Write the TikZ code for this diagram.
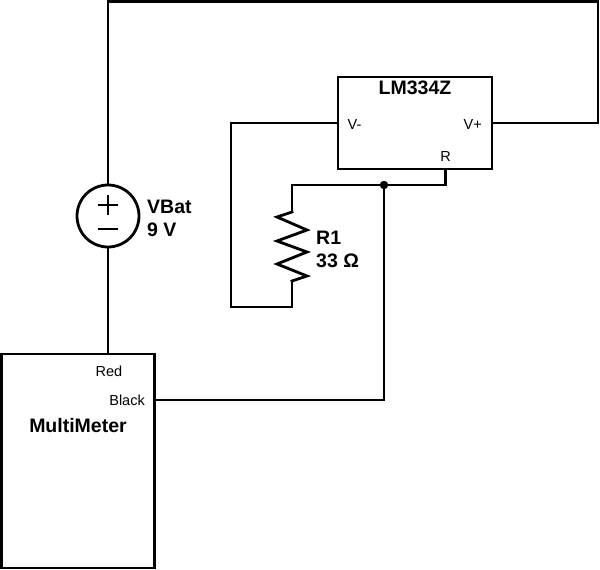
\documentclass[tikz,border=0pt]{standalone}
\usepackage{fontspec}
\setmainfont{Liberation Sans}
\tikzset{
  wire/.style={line width=2.8pt,line join=miter,line cap=rect},
  boxpart/.style={draw,line width=2.8pt,inner sep=0pt,outer sep=0pt,anchor=north west},
  pinlabel/.style={font=\fontsize{14.5}{14.5}\selectfont,inner sep=0pt,anchor=base},
  titlelabel/.style={font=\fontsize{19.5}{19.5}\selectfont\bfseries,inner sep=0pt,anchor=base},
  jdot/.style={circle,fill=black,minimum size=8.5pt,inner sep=0pt}
}
\begin{document}
\begin{tikzpicture}[x=1pt,y=-1pt]
\useasboundingbox (0,0) rectangle (600,570);
\node[boxpart,minimum width=154pt,minimum height=92pt] (lm) at (338,77) {};
\node[boxpart,minimum width=153pt,minimum height=214pt] (mm) at (1.5,354) {};
\node[circle,draw,line width=2.8pt,outer sep=0pt,minimum size=62pt,inner sep=0pt] (bat) at (108,216) {};
\node[jdot] (j) at (384,185) {};
\coordinate (lmv) at (338,123);
\coordinate (lmp) at (492,123);
\coordinate (lmr) at (445.5,169);
\coordinate (mmb) at (154.5,400);
\coordinate (mmr) at (108,354);
\coordinate (rt) at (292,212);
\coordinate (rb) at (292,281);
\coordinate (tl) at (108,1.5);
\coordinate (tr) at (598,1.5);
\draw[wire] (bat.north) -- (tl) -- (tr) |- (lmp);
\draw[wire] (bat.south) -- (mmr);
\draw[wire] (lmr) |- (j.center) -| (rt);
\draw[wire] (rt) -- (277,217) -- (307,230) -- (277,241) -- (307,252) -- (277,264) -- (307,276) -- (rb);
\draw[wire] (rb) |- (231,307) |- (lmv);
\draw[wire] (j.center) |- (mmb);
\draw[line width=2pt] (98,205) -- (118,205) (108,195) -- (108,215) (98,229) -- (118,229);
\node[titlelabel,anchor=base west] (vb) at (147,213) {VBat};
\node[titlelabel,anchor=base west] (vv) at (147,236) {9 V};
\node[titlelabel,anchor=base west] (r1) at (316,244) {R1};
\node[titlelabel,anchor=base west] (rv) at (316,267) {33 Ω};
\node[titlelabel] (lmt) at (415,94) {LM334Z};
\node[titlelabel] (mt) at (78,432) {MultiMeter};
\node[pinlabel,anchor=base west] (a) at (347.5,129) {V-};
\node[pinlabel,anchor=base east] (b) at (482,129) {V+};
\node[pinlabel] (c) at (445.5,161) {R};
\node[pinlabel] (d) at (109,376) {Red};
\node[pinlabel,anchor=base east] (e) at (145,405) {Black};
\end{tikzpicture}
\end{document}
